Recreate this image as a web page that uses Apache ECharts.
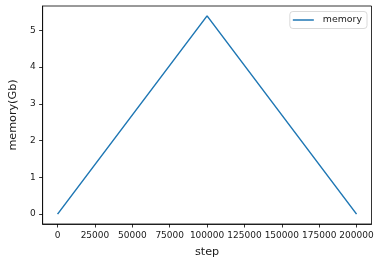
<!DOCTYPE html>
<html><head><meta charset="utf-8">
<script src="https://cdn.jsdelivr.net/npm/echarts@6/dist/echarts.min.js"></script>
<style>html,body{margin:0;padding:0;background:#fff}#c{width:383px;height:265px}</style>
</head><body><div id="c"></div>
<script>
var seriesName = 'memory';
var steps = [0, 100000, 200000];
var memory = [0, 5.39, 0];
var xTicks = [0, 25000, 50000, 75000, 100000, 125000, 150000, 175000, 200000];
var yTicks = [0, 1, 2, 3, 4, 5];
var xLabel = 'step';
var yLabel = 'memory(Gb)';

var xMin = 0, xMax = 200000, yMin = 0, yMax = 5.39;
var xPad = (xMax - xMin) * 0.05, yPad = (yMax - yMin) * 0.05;
var font = 'DejaVu Sans';
var chart = echarts.init(document.getElementById('c'), null, {renderer: 'canvas'});
chart.setOption({
  animation: false,
  grid: {left: 38.3, right: 11.5, top: 6, bottom: 41, show: true, borderColor: '#000', borderWidth: 0.8, containLabel: false},
  legend: {
    right: 16, top: 11.5, orient: 'horizontal',
    data: [seriesName],
    icon: 'rect', itemWidth: 21, itemHeight: 1.5,
    padding: [4, 5, 4, 3],
    borderColor: '#d0d0d0', borderWidth: 0.8, borderRadius: 3,
    textStyle: {fontFamily: font, fontSize: 9.4, color: '#1a1a1a', padding: [0, 0, 0, 4]}
  },
  xAxis: {
    type: 'value', min: xMin - xPad, max: xMax + xPad,
    name: xLabel, nameLocation: 'middle', nameGap: 22.5,
    nameTextStyle: {fontFamily: font, fontSize: 11.2, color: '#1a1a1a'},
    axisLine: {show: true, onZero: false, lineStyle: {color: '#000', width: 0.8}},
    axisTick: {show: true, length: 3.5, lineStyle: {color: '#000', width: 0.8}, customValues: xTicks},
    axisLabel: {fontFamily: font, fontSize: 9, color: '#1a1a1a', margin: 7, hideOverlap: false, showMinLabel: true, showMaxLabel: true, customValues: xTicks, formatter: function(v){return String(v);}},
    splitLine: {show: false}
  },
  yAxis: {
    type: 'value', min: yMin - yPad, max: yMax + yPad,
    name: yLabel, nameLocation: 'middle', nameGap: 21,
    nameTextStyle: {fontFamily: font, fontSize: 11.2, color: '#1a1a1a'},
    axisLine: {show: true, onZero: false, lineStyle: {color: '#000', width: 0.8}},
    axisTick: {show: true, length: 3.5, lineStyle: {color: '#000', width: 0.8}, customValues: yTicks},
    axisLabel: {fontFamily: font, fontSize: 9, color: '#1a1a1a', margin: 7, showMinLabel: true, showMaxLabel: true, customValues: yTicks, formatter: function(v){return String(v);}},
    splitLine: {show: false}
  },
  series: [{
    name: seriesName, type: 'line',
    data: steps.map(function(s, i){return [s, memory[i]];}),
    showSymbol: false, symbol: 'none',
    lineStyle: {color: '#1f77b4', width: 1.5},
    itemStyle: {color: '#1f77b4'}
  }]
});
</script></body></html>
